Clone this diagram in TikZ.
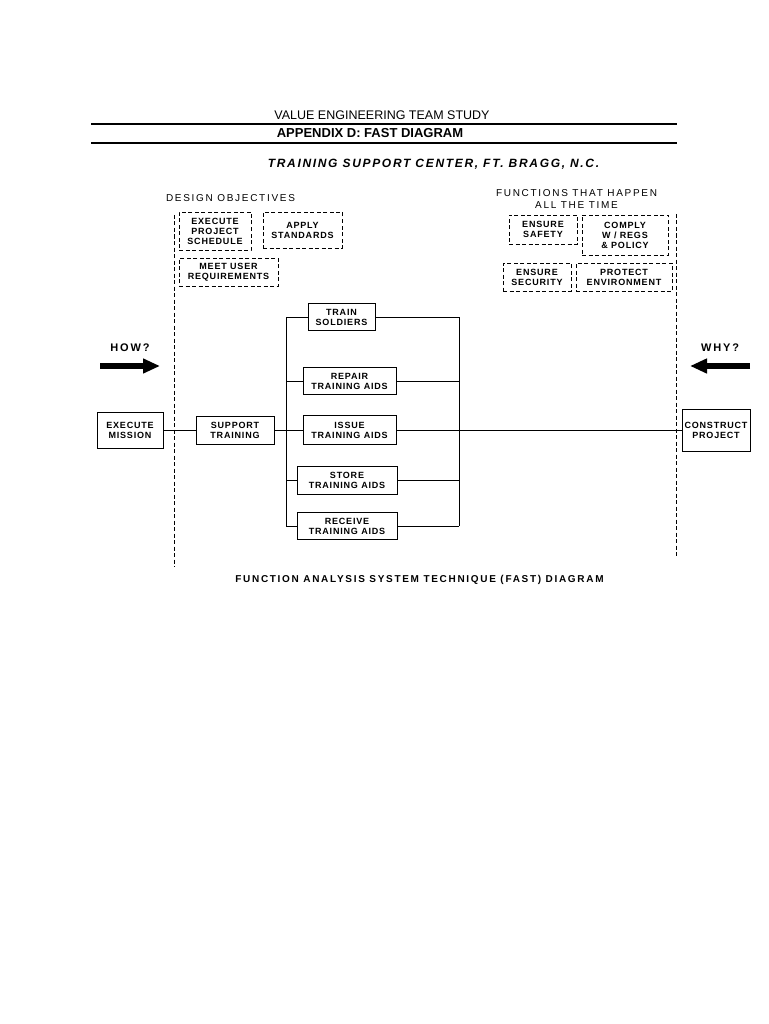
\documentclass[tikz,border=0pt]{standalone}
\usepackage{fontspec}
\setmainfont{Liberation Sans}
\newfontfamily\trackfont[LetterSpace=9]{Liberation Sans}
\newfontfamily\sitefont[LetterSpace=14]{Liberation Sans}
\newfontfamily\widefont[LetterSpace=17]{Liberation Sans}
\usepackage{tikz}
\usetikzlibrary{arrows.meta}

\newcommand{\funcfont}{\trackfont\bfseries\fontsize{9}{10}\selectfont}
\newcommand{\labelfont}{\widefont\fontsize{10}{12}\selectfont}

\begin{document}
\begin{tikzpicture}[x=1pt,y=-1pt]
			\tikzstyle{func}=[draw,line width=1pt,align=center,inner sep=0pt,font=\funcfont]
			\tikzstyle{objective}=[func,line width=0.8pt,dash pattern=on 4pt off 2.5pt]
			\tikzstyle{link}=[line width=0.9pt]
			\tikzstyle{scope}=[line width=0.8pt,dash pattern=on 4pt off 2.5pt]
			\tikzstyle{pointer}=[line width=6pt,-{Triangle[length=17pt,width=14pt]}]

			\useasboundingbox (0,0) rectangle (768,1024);
			\fill[white] (0,0) rectangle (768,1024);

			% headings
			\node[anchor=base,inner sep=0pt,font=\fontsize{12.5}{14}\selectfont] (study) at (382,119.5) {VALUE ENGINEERING TEAM STUDY};
			\draw[line width=1.3pt] (91,124) -- (677,124);
			\node[anchor=base,inner sep=0pt,font=\bfseries\fontsize{13}{15}\selectfont] (appendix) at (370,137.5) {APPENDIX D: FAST DIAGRAM};
			\draw[line width=1.3pt] (91,143) -- (677,143);
			\node[anchor=base,inner sep=0pt,font=\sitefont\bfseries\itshape\fontsize{12}{14}\selectfont] (site) at (433.5,168) {TRAINING SUPPORT CENTER, FT. BRAGG, N.C.};

			% design objectives
			\node[anchor=base,inner sep=0pt,font=\labelfont] (design) at (230.5,201.5) {DESIGN OBJECTIVES};
			\node[objective,minimum width=72pt,minimum height=38pt] (schedule) at (215,231) {EXECUTE\\PROJECT\\SCHEDULE};
			\node[objective,minimum width=79pt,minimum height=36pt] (standards) at (302.5,230) {APPLY\\STANDARDS};
			\node[objective,minimum width=99pt,minimum height=28pt] (user) at (228.5,272) {MEET USER\\REQUIREMENTS};

			% all the time functions
			\node[anchor=base,inner sep=0pt,align=center,font=\labelfont] (always) at (576.5,209) {FUNCTIONS THAT HAPPEN\\ALL THE TIME};
			\node[objective,minimum width=68pt,minimum height=29pt] (safety) at (543,229.5) {ENSURE\\SAFETY};
			\node[objective,minimum width=86pt,minimum height=40pt] (comply) at (625,235) {COMPLY\\W / REGS\\\& POLICY};
			\node[objective,minimum width=68pt,minimum height=28pt] (security) at (537,277) {ENSURE\\SECURITY};
			\node[objective,minimum width=96pt,minimum height=28pt] (protect) at (624,277) {PROTECT\\ENVIRONMENT};

			% scope lines
			\coordinate (left top) at (174,215);
			\coordinate (left bottom) at (174,567);
			\coordinate (right top) at (676,214);
			\coordinate (right bottom) at (676,557);
			\draw[scope] (left top) -- (left bottom);
			\draw[scope] (right top) -- (right bottom);

			% how / why
			\node[anchor=base,inner sep=0pt,font=\widefont\bfseries\fontsize{11}{13}\selectfont] (how) at (130,351) {HOW?};
			\node[anchor=base,inner sep=0pt,font=\widefont\bfseries\fontsize{11}{13}\selectfont] (why) at (720,351) {WHY?};
			\coordinate (how tail) at (100,366);
			\coordinate (how head) at (160,366);
			\coordinate (why tail) at (750,366);
			\coordinate (why head) at (690,366);
			\draw[pointer] (how tail) -- (how head);
			\draw[pointer] (why tail) -- (why head);

			% function boxes
			\node[func,minimum width=66pt,minimum height=36pt] (mission) at (130,430) {EXECUTE\\MISSION};
			\node[func,minimum width=78pt,minimum height=28pt] (support) at (235,430) {SUPPORT\\TRAINING};
			\node[func,minimum width=67pt,minimum height=27pt] (soldiers) at (341.5,317) {TRAIN\\SOLDIERS};
			\node[func,minimum width=93pt,minimum height=27pt] (repair) at (349.5,381) {REPAIR\\TRAINING AIDS};
			\node[func,minimum width=93pt,minimum height=29pt] (issue) at (349.5,430) {ISSUE\\TRAINING AIDS};
			\node[func,minimum width=100pt,minimum height=28pt] (store) at (347,480) {STORE\\TRAINING AIDS};
			\node[func,minimum width=100pt,minimum height=27pt] (receive) at (347,526) {RECEIVE\\TRAINING AIDS};
			\node[func,minimum width=68pt,minimum height=42pt] (construct) at (716,430) {CONSTRUCT\\PROJECT};

			% connectors
			\coordinate (bus left top) at (286,317);
			\coordinate (bus left bottom) at (286,526);
			\coordinate (bus right top) at (459,317);
			\coordinate (bus right bottom) at (459,526);
			\draw[link] (bus left top) -- (bus left bottom);
			\draw[link] (bus right top) -- (bus right bottom);
			\draw[link] (mission) -- (support);
			\draw[link] (support) -- (support -| bus left top);
			\foreach \f in {soldiers,repair,issue,store,receive}
				\draw[link] (\f.west -| bus left top) -- (\f.west)
					(\f.east) -- (\f.east -| bus right top);
			\draw[link] (issue) -- (construct);

			% caption
			\node[anchor=base,inner sep=0pt,font=\widefont\bfseries\fontsize{10}{12}\selectfont] (caption) at (419.5,582) {FUNCTION ANALYSIS SYSTEM TECHNIQUE (FAST) DIAGRAM};
\end{tikzpicture}
\end{document}
